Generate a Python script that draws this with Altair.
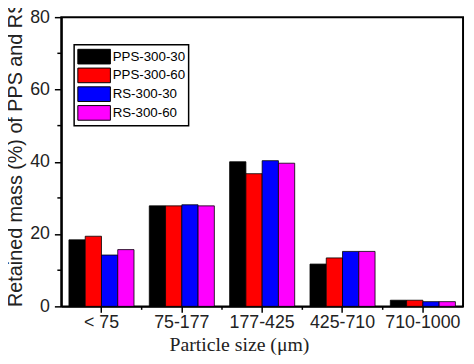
import altair as alt
import pandas as pd

categories = ["< 75", "75-177", "177-425", "425-710", "710-1000"]
series = ["PPS-300-30", "PPS-300-60", "RS-300-30", "RS-300-60"]
pps_300_30 = [18.4, 27.8, 40.0, 11.7, 1.7]
pps_300_60 = [19.4, 27.8, 36.7, 13.4, 1.7]
rs_300_30 = [14.2, 28.1, 40.3, 15.2, 1.3]
rs_300_60 = [15.7, 27.8, 39.6, 15.2, 1.3]
colors = ["#000000", "#ff0000", "#0000ff", "#ff00ff"]
y_major = [0, 20, 40, 60, 80]
y_minor = [10, 30, 50, 70]

rows = []
for s, vals in zip(series, [pps_300_30, pps_300_60, rs_300_30, rs_300_60]):
    for c, v in zip(categories, vals):
        rows.append({"size": c, "series": s, "mass": v})
df = pd.DataFrame(rows)

W, H = 407, 293
LABEL_FONT = "Liberation Sans"

xscale = alt.Scale(domain=categories, paddingInner=0, paddingOuter=0)
yscale = alt.Scale(domain=[0, 80], nice=False)

bars = alt.Chart(df).mark_bar(stroke="black", strokeWidth=0.8).encode(
    x=alt.X("size:N", sort=categories, scale=xscale,
            axis=alt.Axis(title="Particle size (μm)", labelAngle=0,
                          labelFontSize=18, labelFont=LABEL_FONT, labelColor="#222",
                          labelPadding=1, tickSize=6, tickWidth=1.5, tickColor="black",
                          domainColor="black", domainWidth=2,
                          titleFont="Liberation Serif", titleFontSize=20,
                          titleFontWeight="normal", titleColor="#222",
                          titleX=180, titleY=45, titleAlign="center",
                          titleBaseline="alphabetic")),
    xOffset=alt.XOffset("series:N", sort=series,
                        scale=alt.Scale(domain=series, paddingInner=0, paddingOuter=0.47)),
    y=alt.Y("mass:Q", scale=yscale,
            axis=alt.Axis(title="Retained mass (%) of PPS and RS", values=y_major,
                          grid=False, labelFontSize=18, labelFont=LABEL_FONT,
                          labelColor="#222", labelPadding=5, tickSize=7, tickWidth=1.5,
                          tickColor="black", domainColor="black", domainWidth=2,
                          titleFont=LABEL_FONT, titleFontSize=20,
                          titleFontWeight="normal", titleColor="#222",
                          titleX=-40, titleY=138, titleAlign="center",
                          titleBaseline="alphabetic", titleAngle=270)),
    color=alt.Color("series:N", sort=series,
                    scale=alt.Scale(domain=series, range=colors),
                    legend=alt.Legend(title=None, orient="none", legendX=13, legendY=28,
                                      strokeColor="black", padding=3, fillColor="white",
                                      symbolType="M-1,-0.9H3V0.9H-1Z", symbolSize=272,
                                      symbolStrokeColor="black", symbolStrokeWidth=1,
                                      symbolOpacity=1, labelFontSize=13.5,
                                      labelFont=LABEL_FONT, labelColor="black",
                                      labelOffset=18, rowPadding=-1)),
)

ymin_df = pd.DataFrame({"mass": y_minor})
yminor = alt.Chart(ymin_df).mark_rule(color="black", strokeWidth=1.5).encode(
    y=alt.Y("mass:Q", scale=yscale),
    x=alt.value(-4),
    x2=alt.value(0),
)

xmin_df = pd.DataFrame({"size": categories[:4]})
xminor = alt.Chart(xmin_df).mark_rule(color="black", strokeWidth=1.5).encode(
    x=alt.X("size:N", sort=categories, scale=xscale, bandPosition=1),
    y=alt.value(H),
    y2=alt.value(H + 3.5),
)

chart = alt.layer(bars, yminor, xminor).properties(
    width=W, height=H,
    autosize=alt.AutoSizeParams(type="none"),
    padding={"left": 54, "top": 7, "right": 3, "bottom": 48},
).configure_view(stroke="black", strokeWidth=2).configure_legend(strokeWidth=1.5)

chart.save("out.html", embed_options={"renderer": "svg", "actions": False})
